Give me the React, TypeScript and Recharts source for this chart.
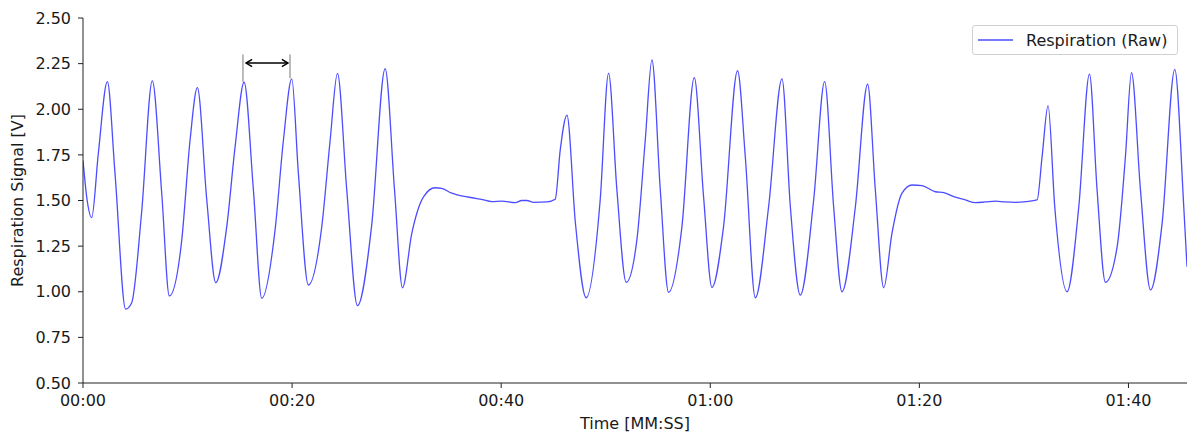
import React from 'react';
import { LineChart, Line, XAxis, YAxis, ReferenceLine, Legend } from 'recharts';

const timeSec = [
  0, 0.4, 0.83, 1.47, 2.33, 3.06, 4.08, 4.66, 5.6, 6.63, 7.53, 8.26, 9.44, 10.24, 10.94,
  11.84, 12.7, 13.75, 14.55, 15.41, 16.3, 17.1, 18.37, 19.17, 19.97, 20.6, 21.56, 22.84,
  23.64, 24.34, 25.23, 26.25, 27.6, 28.9, 29.8, 30.56, 31.45, 32.57, 33.68, 34.3, 35.28,
  35.9, 37.2, 38.2, 39.1, 40.07, 41.34, 41.97, 42.46, 43.1, 44.37, 45.17, 45.65, 46.29,
  47.1, 48.13, 49.47, 50.27, 51.07, 51.96, 52.98, 53.78, 54.42, 55.22, 56.01, 57.29,
  58.47, 59.36, 60.16, 61.27, 62.61, 63.35, 64.31, 65.58, 66.86, 67.66, 68.61, 69.89,
  70.94, 71.8, 72.6, 73.88, 75.05, 75.79, 76.59, 77.38, 78.34, 79.3, 80.26, 81.53, 82.33,
  83.28, 84.4, 85.36, 86.3, 87.27, 88.2, 89.19, 90.2, 91.26, 91.74, 92.31, 92.95, 94.13,
  95.25, 96.27, 97.0, 97.8, 98.92, 99.71, 100.29, 101.15, 102.11, 103.22, 104.43, 105.29,
  105.6,
];

const respiration = [
  1.72, 1.5, 1.406, 1.76, 2.151, 1.65, 0.905, 0.94, 1.43, 2.155, 1.54, 0.977, 1.28, 1.83,
  2.118, 1.503, 1.05, 1.357, 1.795, 2.148, 1.557, 0.964, 1.338, 1.83, 2.166, 1.65, 1.037,
  1.357, 1.83, 2.197, 1.557, 0.924, 1.357, 2.222, 1.557, 1.022, 1.32, 1.52, 1.57, 1.567,
  1.54, 1.53, 1.515, 1.505, 1.494, 1.497, 1.488, 1.5, 1.5, 1.49, 1.492, 1.507, 1.777,
  1.968, 1.377, 0.967, 1.503, 2.197, 1.557, 1.052, 1.284, 1.83, 2.27, 1.557, 0.997, 1.357,
  2.173, 1.52, 1.024, 1.357, 2.211, 1.74, 0.967, 1.466, 2.166, 1.466, 0.982, 1.503, 2.151,
  1.466, 1.0, 1.466, 2.137, 1.557, 1.022, 1.32, 1.54, 1.585, 1.581, 1.548, 1.543, 1.521,
  1.503, 1.488, 1.492, 1.497, 1.492, 1.49, 1.494, 1.503, 1.74, 2.02, 1.466, 1.0, 1.466,
  2.193, 1.557, 1.052, 1.247, 1.74, 2.2, 1.557, 1.01, 1.375, 2.219, 1.466, 1.137,
];

const xTicks = [0, 20, 40, 60, 80, 100];
const xTickLabels = ['00:00', '00:20', '00:40', '01:00', '01:20', '01:40'];
const yTicks = [0.5, 0.75, 1.0, 1.25, 1.5, 1.75, 2.0, 2.25, 2.5];
const xMax = 105.6;
const seriesName = 'Respiration (Raw)';

// breath-interval annotation
const bracketTimes = [15.3, 19.8];
const bracketBottoms = [2.15, 2.17];
const bracketTop = 2.3;
const arrowTimes = [15.6, 19.6];
const arrowLevel = 2.253;

const data = timeSec.map((t, i) => ({ t, v: respiration[i] }));

const FONT = '"DejaVu Sans", sans-serif';
const FS = 16;
const LINE_COLOR = '#4d4dff';
const TEXT = '#1a1a1a';

const ArrowShape = (props: any) => {
  const { x1, y1, x2, y2 } = props;
  if (x1 == null || x2 == null) return null;
  const h = 6;
  return (
    <g>
      <line x1={x1} y1={y1} x2={x2} y2={y2} stroke="#000" strokeWidth={1.5} />
      <path d={`M${x1 + h},${y1 - h * 0.6} L${x1},${y1} L${x1 + h},${y1 + h * 0.6}`} fill="none" stroke="#000" strokeWidth={1.5} />
      <path d={`M${x2 - h},${y2 - h * 0.6} L${x2},${y2} L${x2 - h},${y2 + h * 0.6}`} fill="none" stroke="#000" strokeWidth={1.5} />
    </g>
  );
};

const LegendBox = () => (
  <div
    style={{
      width: 206,
      height: 30,
      border: '1px solid #d0d0d0',
      borderRadius: 3,
      background: 'rgba(255,255,255,0.8)',
      display: 'flex',
      alignItems: 'center',
      fontFamily: FONT,
      fontSize: FS,
      color: TEXT,
      boxSizing: 'border-box',
      whiteSpace: 'nowrap',
    }}
  >
    <svg width={48} height={10} style={{ marginLeft: 5, flexShrink: 0 }}>
      <line x1={0} y1={5} x2={35} y2={5} stroke={LINE_COLOR} strokeWidth={1.3} />
    </svg>
    <span>{seriesName}</span>
  </div>
);

export default function App() {
  return (
    <div style={{ position: 'absolute', left: 0, top: 0, width: 1200, height: 445, background: '#fff', fontFamily: FONT }}>
      <LineChart width={1200} height={445} data={data} margin={{ top: 18, right: 13, left: 0, bottom: 0 }}>
        <XAxis
          dataKey="t"
          type="number"
          domain={[0, xMax]}
          ticks={xTicks}
          allowDataOverflow
          tickFormatter={(v: number) => xTickLabels[xTicks.indexOf(v)] ?? ''}
          stroke="#222"
          tickSize={5}
          tickMargin={7}
          height={62}
          tick={{ fill: TEXT, fontSize: FS, fontFamily: FONT }}
          label={{ value: 'Time [MM:SS]', position: 'insideBottom', offset: 16, style: { fill: TEXT, fontSize: FS, fontFamily: FONT } }}
        />
        <XAxis xAxisId="top" orientation="top" type="number" domain={[0, xMax]} tick={false} tickLine={false} height={0} stroke="#222" />
        <YAxis
          type="number"
          domain={[0.5, 2.5]}
          ticks={yTicks}
          allowDataOverflow
          tickFormatter={(v: number) => v.toFixed(2)}
          stroke="#222"
          tickSize={5}
          tickMargin={7}
          width={83}
          tick={{ fill: TEXT, fontSize: FS, fontFamily: FONT }}
          label={{ value: 'Respiration Signal [V]', angle: -90, position: 'insideLeft', offset: 17, style: { textAnchor: 'middle', fill: TEXT, fontSize: FS, fontFamily: FONT } }}
        />
        <YAxis yAxisId="right" orientation="right" type="number" domain={[0.5, 2.5]} tick={false} tickLine={false} width={0} stroke="#222" />
        <Line
          type="monotone"
          dataKey="v"
          name={seriesName}
          stroke={LINE_COLOR}
          strokeWidth={1.3}
          dot={false}
          activeDot={false}
          isAnimationActive={false}
        />
        {bracketTimes.map((bt, i) => (
          <ReferenceLine
            key={'b' + i}
            segment={[{ x: bt, y: bracketTop }, { x: bt, y: bracketBottoms[i] }]}
            stroke="#777"
            strokeWidth={1}
          />
        ))}
        <ReferenceLine
          segment={[{ x: arrowTimes[0], y: arrowLevel }, { x: arrowTimes[1], y: arrowLevel }]}
          shape={ArrowShape}
        />
        <Legend
          layout="horizontal"
          verticalAlign="middle"
          align="center"
          content={() => <LegendBox />}
          wrapperStyle={{ position: 'absolute', left: 972, top: 25, width: 206, height: 30 }}
        />
      </LineChart>
    </div>
  );
}
